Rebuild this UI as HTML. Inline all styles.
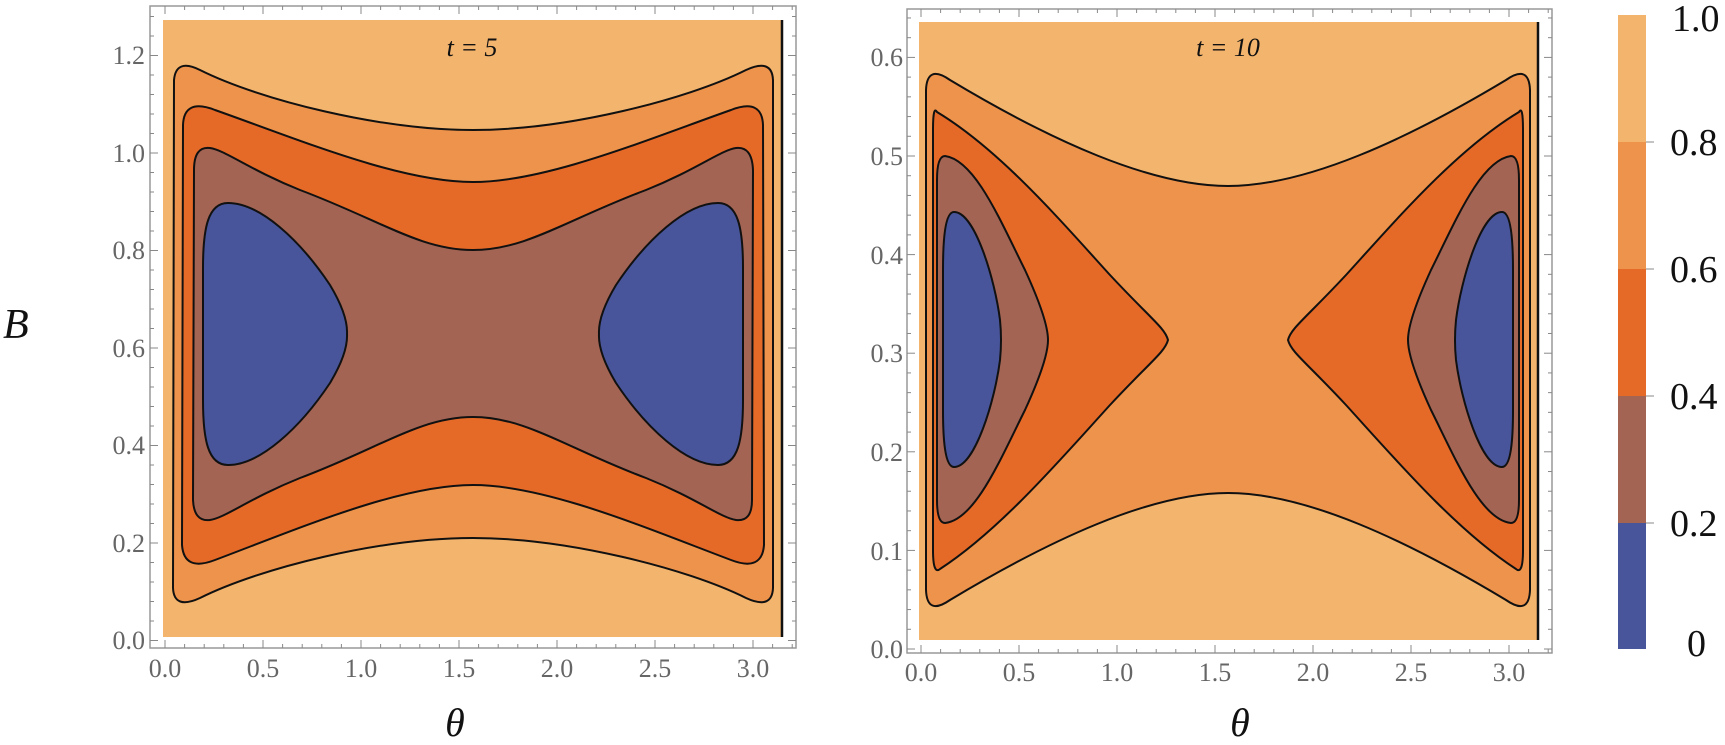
<!DOCTYPE html>
<html><head><meta charset="utf-8"><style>
html,body{margin:0;padding:0;background:#fff;}
svg{display:block;}
.tl{font-family:"Liberation Serif",serif;font-size:26px;fill:#666;}
.cb{font-family:"Liberation Serif",serif;font-size:38px;fill:#111;}
.it{font-family:"Liberation Serif",serif;font-style:italic;fill:#111;}
</style></head><body>
<svg id="s" width="1725" height="745" viewBox="0 0 1725 745" xmlns="http://www.w3.org/2000/svg">
<defs>
<g id="L1" >
<path d="M473,130 C380,130 260,100 200,70 Q176,58 174,80 L173,588 Q174,610 200,598 C260,568 380,538 473,538 C566,538 686,568 746,598 Q772,610 773,588 L773,80 Q772,58 746,70 C686,100 566,130 473,130 Z" fill="#EE934B" stroke="#111" stroke-width="2"/>
<path d="M473,182 C400,182 300,140 215,110 Q184,98 183,125 L182,545 Q184,572 215,560 C300,528 400,485 473,485 C546,485 646,528 731,560 Q762,572 764,545 L763,125 Q762,98 731,110 C646,140 546,182 473,182 Z" fill="#E56A28" stroke="#111" stroke-width="2"/>
<path d="M473,250 C420,250 380,220 300,190 C250,170 225,150 210,148 Q194,146 194,170 L193,500 Q194,522 210,520 C225,518 250,498 300,478 C380,448 420,417 473,417 C526,417 566,448 646,478 C696,498 721,518 736,520 Q752,522 752,500 L753,170 Q752,146 736,148 C721,150 696,170 646,190 C566,220 526,250 473,250 Z" fill="#A36453" stroke="#111" stroke-width="2"/>
</g>
<path id="LB" d="M228,203 C260,203 300,240 330,285 Q348,315 347,334 Q348,353 330,383 C300,428 260,465 228,465 C208,465 203,440 203,400 L203,268 C203,228 208,203 228,203 Z" fill="#48559A" stroke="#111" stroke-width="2"/>
<g id="R2">
<path d="M937,112 C1000,150 1060,220 1110,275 C1150,318 1165,328 1168,340 C1165,352 1150,362 1110,405 C1060,460 1000,530 940,569 Q933,575 933,550 L933,130 Q933,105 937,112 Z" fill="#E56A28" stroke="#111" stroke-width="2"/>
<path d="M945,156 C975,160 1000,220 1025,270 Q1048,320 1048,340 Q1048,360 1025,410 C1000,460 975,520 945,523 Q937,523 937,500 L937,180 Q937,156 945,156 Z" fill="#A36453" stroke="#111" stroke-width="2"/>
<path d="M954,212 C975,212 995,280 1000,320 Q1002,340 1000,360 C995,400 975,467 954,467 C945,467 943,440 943,410 L943,270 C943,240 945,212 954,212 Z" fill="#48559A" stroke="#111" stroke-width="2"/>
</g>
</defs>
<!-- left plot -->
<rect x="163" y="20" width="619" height="617" fill="#F3B46D"/>
<use href="#L1"/>
<use href="#LB"/>
<use href="#LB" transform="matrix(-1 0 0 1 946 0)"/>
<line x1="782" y1="20" x2="782" y2="637" stroke="#111" stroke-width="2.5"/>
<rect x="150" y="6" width="646" height="642" fill="none" stroke="#999" stroke-width="1.5"/>
<text class="it" x="472" y="56" font-size="26" text-anchor="middle">t = 5</text>
<!-- right plot -->
<rect x="919" y="22" width="619" height="618" fill="#F3B46D"/>
<path d="M1228,186 C1150,186 1050,140 950,80 Q927,64 926,90 L926,590 Q927,616 950,600 C1050,540 1150,493 1228,493 C1306,493 1406,540 1506,600 Q1529,616 1530,590 L1530,90 Q1529,64 1506,80 C1406,140 1306,186 1228,186 Z" fill="#EE934B" stroke="#111" stroke-width="2"/>
<use href="#R2"/>
<use href="#R2" transform="matrix(-1 0 0 1 2456 0)"/>
<line x1="1538" y1="22" x2="1538" y2="640" stroke="#111" stroke-width="2.5"/>
<rect x="907" y="9" width="645" height="644" fill="none" stroke="#999" stroke-width="1.5"/>
<text class="it" x="1228" y="56" font-size="26" text-anchor="middle">t = 10</text>
<g class="tl" text-anchor="end">
<text x="145" y="649">0.0</text><text x="145" y="552">0.2</text><text x="145" y="454">0.4</text><text x="145" y="357">0.6</text><text x="145" y="259">0.8</text><text x="145" y="162">1.0</text><text x="145" y="64">1.2</text>
<text x="903" y="658">0.0</text><text x="903" y="560">0.1</text><text x="903" y="461">0.2</text><text x="903" y="362">0.3</text><text x="903" y="264">0.4</text><text x="903" y="165">0.5</text><text x="903" y="66">0.6</text>
</g>
<g class="tl" text-anchor="middle">
<text x="165" y="677">0.0</text><text x="263" y="677">0.5</text><text x="361" y="677">1.0</text><text x="459" y="677">1.5</text><text x="557" y="677">2.0</text><text x="655" y="677">2.5</text><text x="753" y="677">3.0</text>
<text x="921" y="681">0.0</text><text x="1019" y="681">0.5</text><text x="1117" y="681">1.0</text><text x="1215" y="681">1.5</text><text x="1313" y="681">2.0</text><text x="1411" y="681">2.5</text><text x="1509" y="681">3.0</text>
</g>
<text class="it" x="455" y="736" font-size="40" text-anchor="middle">θ</text>
<text class="it" x="1240" y="736" font-size="40" text-anchor="middle">θ</text>
<text class="it" x="3" y="338" font-size="42">B</text>
<rect x="1618" y="15" width="28" height="127" fill="#F3B46D"/>
<rect x="1618" y="142" width="28" height="127" fill="#EE934B"/>
<rect x="1618" y="269" width="28" height="127" fill="#E56A28"/>
<rect x="1618" y="396" width="28" height="127" fill="#A36453"/>
<rect x="1618" y="523" width="28" height="126" fill="#48559A"/>
<g class="cb">
<text x="1672" y="31">1.0</text><text x="1670" y="155">0.8</text><text x="1670" y="282">0.6</text><text x="1670" y="409">0.4</text><text x="1670" y="536">0.2</text><text x="1687" y="656">0</text>
</g>
<g id="ticks" stroke="#888" stroke-width="1"></g>
</svg>
<script>
var g=document.getElementById('ticks'),ns='http://www.w3.org/2000/svg';
function L(a,b,c,d){var l=document.createElementNS(ns,'line');l.setAttribute('x1',a);l.setAttribute('y1',b);l.setAttribute('x2',c);l.setAttribute('y2',d);g.appendChild(l);}
function plot(fx,fy,x0,sx,y0,sy,ymax,ystep){
 for(var i=0;i<=32;i++){var t=i*0.1;if(t>3.2)break;var x=x0+sx*t,len=(i%5==0)?8:4;L(x,fy[1],x,fy[1]-len);L(x,fy[0],x,fy[0]+len);}
 for(var j=0;j*ystep<=ymax+1e-9;j++){var v=j*ystep,y=y0-sy*v,len=(j%5==0)?8:4;L(fx[0],y,fx[0]+len,y);L(fx[1],y,fx[1]-len,y);}
}
plot([150,796],[6,648],165,196,640.5,487.5,1.28,0.04);
plot([907,1552],[9,653],921,196,649,986,0.64,0.02);
[142,269,396,523].forEach(function(y){L(1646,y,1654,y);});
</script>
</body></html>
